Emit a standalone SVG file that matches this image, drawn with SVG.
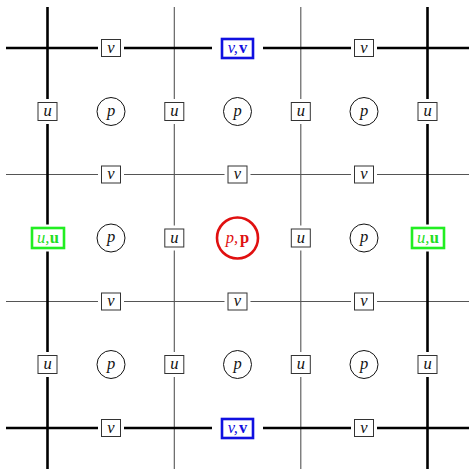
<svg xmlns="http://www.w3.org/2000/svg" width="474" height="476" viewBox="0 0 474 476">
<defs>
<style>
.thick{stroke:#000;stroke-width:2.6;fill:none}
.thin{stroke:#555;stroke-width:1.1;fill:none}
.ko{fill:#fff;stroke:none}
.box{fill:#fff;stroke:#333;stroke-width:1}
.circ{fill:#fff;stroke:#111;stroke-width:1}
.t{font-family:"Liberation Serif","DejaVu Serif",serif;font-size:16.5px;font-style:italic;text-anchor:middle;fill:#111}
.b{font-style:normal;font-weight:bold}
.blue{stroke:#1010e0;stroke-width:2.6;fill:#fff}
.green{stroke:#22ee22;stroke-width:2.6;fill:#fff}
.red{stroke:#e01010;stroke-width:2.6;fill:#fff}
</style>
</defs>
<rect width="474" height="476" fill="#fff"/>
<g id="connectors">
<line class="thin" x1="174.3" y1="7" x2="174.3" y2="469"/>
<line class="thin" x1="300.8" y1="7" x2="300.8" y2="469"/>
<line class="thin" x1="6" y1="174.5" x2="469" y2="174.5"/>
<line class="thin" x1="6" y1="301.5" x2="469" y2="301.5"/>
<line class="thick" x1="47.5" y1="7" x2="47.5" y2="469"/>
<line class="thick" x1="427.5" y1="7" x2="427.5" y2="469"/>
<line class="thick" x1="6" y1="48" x2="469" y2="48"/>
<line class="thick" x1="6" y1="428" x2="469" y2="428"/>
</g>
<!-- v nodes -->
<g id="v1"><rect class="ko" x="98" y="36" width="26" height="24"/><rect class="box" x="101.5" y="39.5" width="19" height="17"/><text class="t" x="111" y="52.5">v</text></g>
<g id="v2"><rect class="ko" x="351" y="36" width="26" height="24"/><rect class="box" x="354.5" y="39.5" width="19" height="17"/><text class="t" x="364" y="52.5">v</text></g>
<g id="v3"><rect class="ko" x="98" y="162.5" width="26" height="24"/><rect class="box" x="101.5" y="166" width="19" height="17"/><text class="t" x="111" y="179">v</text></g>
<g id="v4"><rect class="ko" x="224.5" y="162.5" width="26" height="24"/><rect class="box" x="228" y="166" width="19" height="17"/><text class="t" x="237.5" y="179">v</text></g>
<g id="v5"><rect class="ko" x="351" y="162.5" width="26" height="24"/><rect class="box" x="354.5" y="166" width="19" height="17"/><text class="t" x="364" y="179">v</text></g>
<g id="v6"><rect class="ko" x="98" y="289.5" width="26" height="24"/><rect class="box" x="101.5" y="293" width="19" height="17"/><text class="t" x="111" y="306">v</text></g>
<g id="v7"><rect class="ko" x="224.5" y="289.5" width="26" height="24"/><rect class="box" x="228" y="293" width="19" height="17"/><text class="t" x="237.5" y="306">v</text></g>
<g id="v8"><rect class="ko" x="351" y="289.5" width="26" height="24"/><rect class="box" x="354.5" y="293" width="19" height="17"/><text class="t" x="364" y="306">v</text></g>
<g id="v9"><rect class="ko" x="98" y="416" width="26" height="24"/><rect class="box" x="101.5" y="419.5" width="19" height="17"/><text class="t" x="111" y="432.5">v</text></g>
<g id="v10"><rect class="ko" x="351" y="416" width="26" height="24"/><rect class="box" x="354.5" y="419.5" width="19" height="17"/><text class="t" x="364" y="432.5">v</text></g>
<!-- blue v,v nodes -->
<g id="vv_top"><rect class="ko" x="212" y="36" width="51" height="25"/><rect class="blue" x="222" y="39" width="31" height="19"/><text class="t" x="237.5" y="53" style="fill:#1010e0">v,<tspan class="b" dx="1">v</tspan></text></g>
<g id="vv_bot"><rect class="ko" x="212" y="416" width="51" height="25"/><rect class="blue" x="222" y="419" width="31" height="19"/><text class="t" x="237.5" y="433" style="fill:#1010e0">v,<tspan class="b" dx="1">v</tspan></text></g>
<!-- u nodes -->
<g id="u1"><rect class="ko" x="35" y="99" width="25" height="25"/><rect class="box" x="38" y="102.5" width="19" height="18"/><text class="t" x="47.5" y="116">u</text></g>
<g id="u2"><rect class="ko" x="161.8" y="99" width="25" height="25"/><rect class="box" x="164.8" y="102.5" width="19" height="18"/><text class="t" x="174.3" y="116">u</text></g>
<g id="u3"><rect class="ko" x="288.3" y="99" width="25" height="25"/><rect class="box" x="291.3" y="102.5" width="19" height="18"/><text class="t" x="300.8" y="116">u</text></g>
<g id="u4"><rect class="ko" x="415" y="99" width="25" height="25"/><rect class="box" x="418" y="102.5" width="19" height="18"/><text class="t" x="427.5" y="116">u</text></g>
<g id="u5"><rect class="ko" x="161.8" y="225.5" width="25" height="25"/><rect class="box" x="164.8" y="229" width="19" height="18"/><text class="t" x="174.3" y="242.5">u</text></g>
<g id="u6"><rect class="ko" x="288.3" y="225.5" width="25" height="25"/><rect class="box" x="291.3" y="229" width="19" height="18"/><text class="t" x="300.8" y="242.5">u</text></g>
<g id="u7"><rect class="ko" x="35" y="352" width="25" height="25"/><rect class="box" x="38" y="355.5" width="19" height="18"/><text class="t" x="47.5" y="369">u</text></g>
<g id="u8"><rect class="ko" x="161.8" y="352" width="25" height="25"/><rect class="box" x="164.8" y="355.5" width="19" height="18"/><text class="t" x="174.3" y="369">u</text></g>
<g id="u9"><rect class="ko" x="288.3" y="352" width="25" height="25"/><rect class="box" x="291.3" y="355.5" width="19" height="18"/><text class="t" x="300.8" y="369">u</text></g>
<g id="u10"><rect class="ko" x="415" y="352" width="25" height="25"/><rect class="box" x="418" y="355.5" width="19" height="18"/><text class="t" x="427.5" y="369">u</text></g>
<!-- green u,u nodes -->
<g id="uu_left"><rect class="ko" x="29" y="224.5" width="37" height="27"/><rect class="green" x="32" y="228" width="32" height="20"/><text class="t" x="48" y="242.5" style="fill:#22dd22">u,<tspan class="b" dx="0.5">u</tspan></text></g>
<g id="uu_right"><rect class="ko" x="409" y="224.5" width="37" height="27"/><rect class="green" x="412" y="228" width="32" height="20"/><text class="t" x="428" y="242.5" style="fill:#22dd22">u,<tspan class="b" dx="0.5">u</tspan></text></g>
<!-- p nodes -->
<g id="p1"><circle class="circ" cx="111" cy="111.5" r="14"/><text class="t" x="111" y="115.5">p</text></g>
<g id="p2"><circle class="circ" cx="237.5" cy="111.5" r="14"/><text class="t" x="237.5" y="115.5">p</text></g>
<g id="p3"><circle class="circ" cx="364" cy="111.5" r="14"/><text class="t" x="364" y="115.5">p</text></g>
<g id="p4"><circle class="circ" cx="111" cy="238" r="14"/><text class="t" x="111" y="242">p</text></g>
<g id="p5"><circle class="circ" cx="364" cy="238" r="14"/><text class="t" x="364" y="242">p</text></g>
<g id="p6"><circle class="circ" cx="111" cy="364.5" r="14"/><text class="t" x="111" y="368.5">p</text></g>
<g id="p7"><circle class="circ" cx="237.5" cy="364.5" r="14"/><text class="t" x="237.5" y="368.5">p</text></g>
<g id="p8"><circle class="circ" cx="364" cy="364.5" r="14"/><text class="t" x="364" y="368.5">p</text></g>
<!-- red p,p node -->
<g id="pp_center"><circle class="red" cx="237.5" cy="238" r="20.5"/><text class="t" x="237.5" y="242.5" style="fill:#e01010">p,<tspan class="b" dx="2">p</tspan></text></g>
</svg>
